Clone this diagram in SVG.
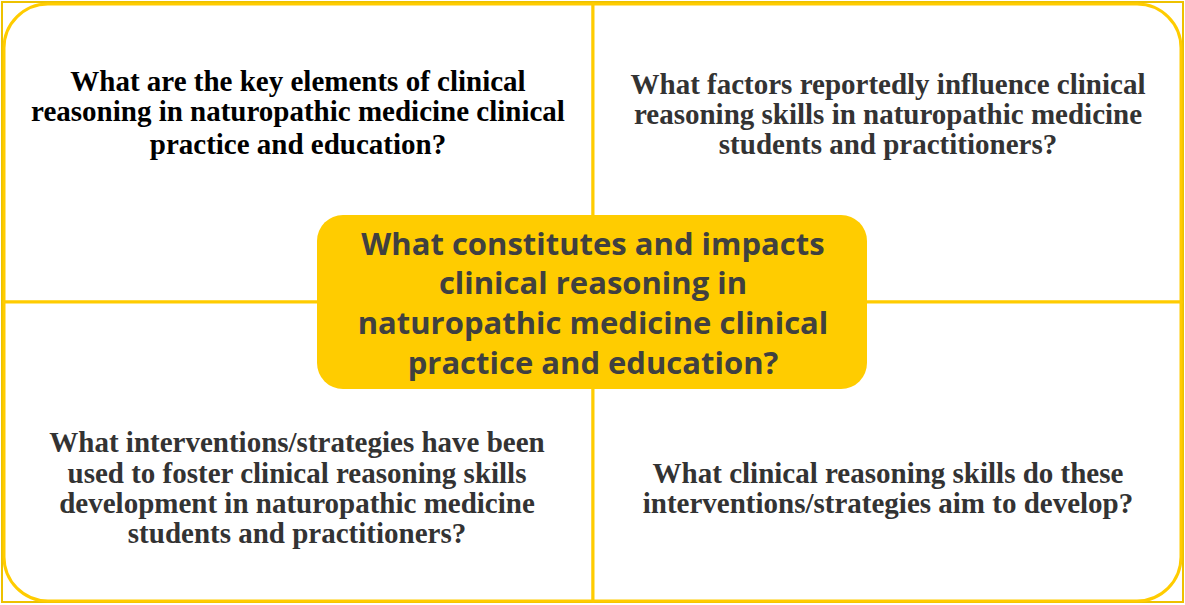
<svg xmlns="http://www.w3.org/2000/svg" width="1185" height="605" viewBox="0 0 1185 605">
<style>
.frame{fill:none;stroke:#EDC100;stroke-width:2}
.quad{fill:#FFFFFF;stroke:#FFCC00;stroke-width:3}
.q{font-family:"Liberation Serif","Times New Roman",serif;font-weight:bold;font-size:29px;text-anchor:middle;fill:#333333}
.c{font-family:"Open Sans","Noto Sans",sans-serif;font-weight:bold;font-size:31px;text-anchor:middle;fill:#404040}
</style>
<rect x="0" y="0" width="1185" height="605" fill="#FFFFFF"/>
<g id="frame">
<rect class="frame" x="2" y="2" width="1181" height="600"/>
</g>
<g id="q-top-left">
<path class="quad" d="M4,48 A44,44 0 0 1 48,4 L593,4 L593,302 L4,302 Z"/>
<text class="q" style="fill:#000000"><tspan x="298" y="91">What are the key elements of clinical</tspan><tspan x="298" y="121">reasoning in naturopathic medicine clinical</tspan><tspan x="298" y="154">practice and education?</tspan></text>
</g>
<g id="q-top-right">
<path class="quad" d="M593,4 L1137,4 A44,44 0 0 1 1181,48 L1181,302 L593,302 Z"/>
<text class="q"><tspan x="888" y="94">What factors reportedly influence clinical</tspan><tspan x="888" y="124">reasoning skills in naturopathic medicine</tspan><tspan x="888" y="154">students and practitioners?</tspan></text>
</g>
<g id="q-bottom-left">
<path class="quad" d="M4,302 L593,302 L593,601 L48,601 A44,44 0 0 1 4,557 Z"/>
<text class="q"><tspan x="297" y="452">What interventions/strategies have been</tspan><tspan x="297" y="483">used to foster clinical reasoning skills</tspan><tspan x="297" y="513">development in naturopathic medicine</tspan><tspan x="297" y="543">students and practitioners?</tspan></text>
</g>
<g id="q-bottom-right">
<path class="quad" d="M593,302 L1181,302 L1181,557 A44,44 0 0 1 1137,601 L593,601 Z"/>
<text class="q"><tspan x="888" y="483">What clinical reasoning skills do these</tspan><tspan x="888" y="513">interventions/strategies aim to develop?</tspan></text>
</g>
<g id="center">
<rect x="317" y="215" width="550" height="174" rx="26" ry="26" fill="#FFCC00"/>
<text class="c"><tspan x="593" y="255">What constitutes and impacts</tspan><tspan x="593" y="294">clinical reasoning in</tspan><tspan x="593" y="334">naturopathic medicine clinical</tspan><tspan x="593" y="374">practice and education?</tspan></text>
</g>
</svg>
